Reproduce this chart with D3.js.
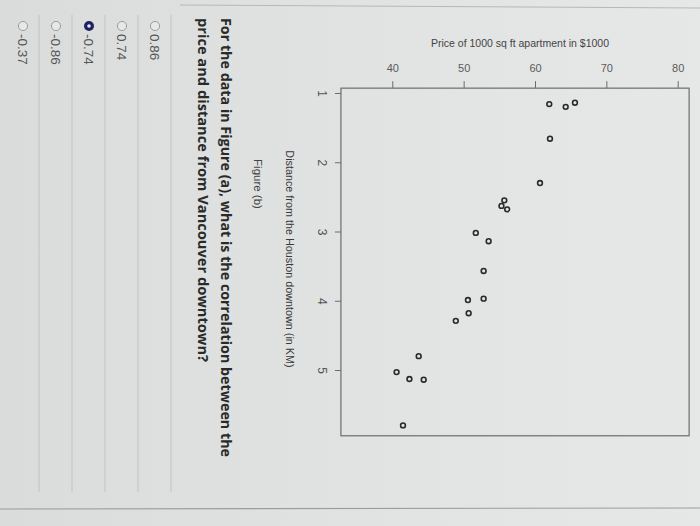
<!DOCTYPE html>
<html>
<head>
<meta charset="utf-8">
<script src="https://cdn.jsdelivr.net/npm/d3@7"></script>
<style>
  html, body { margin: 0; padding: 0; background: #dfe1e0; }
  svg { display: block; }
</style>
</head>
<body>
<svg id="chart" width="700" height="526"></svg>
<script>
// ---- data ----
const price = [62.0, 64.3, 65.6, 62.1, 60.7, 55.7, 55.3, 56.1, 51.7, 53.5,
               52.8, 50.6, 52.8, 50.7, 48.9, 43.7, 40.6, 42.4, 44.4, 41.5];
const distance = [1.16, 1.20, 1.14, 1.66, 2.30, 2.55, 2.63, 2.68, 3.02, 3.14,
                  3.57, 3.99, 3.97, 4.18, 4.29, 4.80, 5.03, 5.13, 5.14, 5.80];
const priceTicks = [40, 50, 60, 70, 80];
const distanceTicks = [1, 2, 3, 4, 5];
const priceLimits = [32.8, 81.6];
const distanceLimits = [0.93, 5.95];
const priceTitle = "Price of 1000 sq ft apartment in $1000";
const distanceTitle = "Distance from the Houston downtown (in KM)";
const figureCaption = "Figure (b)";
const questionLines = ["For the data in Figure (a), what is the correlation between the",
                       "price and distance from Vancouver downtown?"];
const options = ["0.86", "0.74", "-0.74", "-0.86", "-0.37"];
const selectedOption = "-0.74";

// ---- drawing ----
const svg = d3.select("#chart");

const defs = svg.append("defs");
const grad = defs.append("linearGradient").attr("id", "bg")
  .attr("x1", "0").attr("y1", "0").attr("x2", "1").attr("y2", "0");
grad.append("stop").attr("offset", "0").attr("stop-color", "#d9dcdb");
grad.append("stop").attr("offset", "0.5").attr("stop-color", "#e1e3e2");
grad.append("stop").attr("offset", "1").attr("stop-color", "#e6e8e7");
svg.append("rect").attr("width", 700).attr("height", 526).attr("fill", "url(#bg)");

// page frame lines
svg.append("line").attr("x1", 180).attr("y1", 5).attr("x2", 700).attr("y2", 8)
  .attr("stroke", "#b5b8b7").attr("stroke-width", 1);
svg.append("line").attr("x1", 0).attr("y1", 509).attr("x2", 700).attr("y2", 508)
  .attr("stroke", "#9a9d9c").attr("stroke-width", 1.2);

// scales: price runs horizontally, distance runs vertically (rotated photo)
const x = d3.scaleLinear().domain([40, 80]).range([392.3, 677.7]);
const y = d3.scaleLinear().domain([1, 5]).range([93, 370]);

// plot box
svg.append("rect")
  .attr("x", x(priceLimits[0])).attr("y", y(distanceLimits[0]))
  .attr("width", x(priceLimits[1]) - x(priceLimits[0]))
  .attr("height", y(distanceLimits[1]) - y(distanceLimits[0]))
  .attr("fill", "none").attr("stroke", "#6a6d6c").attr("stroke-width", 1.2);

// price axis (top)
const gTop = svg.append("g")
  .attr("transform", `translate(0,${y(distanceLimits[0])})`)
  .call(d3.axisTop(x).tickValues(priceTicks).tickSize(7).tickPadding(9).tickFormat(d3.format("d")));
gTop.select(".domain").remove();
gTop.selectAll("line").attr("stroke", "#6a6d6c");
gTop.selectAll("text").attr("fill", "#5a5a5a").attr("font-size", 11)
  .attr("font-family", "Liberation Sans, Arial, sans-serif");

// distance axis (left, labels rotated)
const gLeft = svg.append("g")
  .attr("transform", `translate(${x(priceLimits[0])},0)`)
  .call(d3.axisLeft(y).tickValues(distanceTicks).tickSize(6).tickFormat(d3.format("d")));
gLeft.select(".domain").remove();
gLeft.selectAll("line").attr("stroke", "#6a6d6c");
gLeft.selectAll("text")
  .attr("x", 0).attr("y", 0).attr("dy", "0.35em")
  .attr("text-anchor", "middle")
  .attr("transform", "translate(-19,0) rotate(90)")
  .attr("fill", "#555").attr("font-size", 12)
  .attr("font-family", "Liberation Sans, Arial, sans-serif");

// axis titles
svg.append("text").text(priceTitle)
  .attr("x", 520).attr("y", 47).attr("text-anchor", "middle")
  .attr("font-family", "Liberation Sans, Arial, sans-serif")
  .attr("font-size", 10.5).attr("fill", "#444");

svg.append("text").text(distanceTitle)
  .attr("transform", `translate(290,${(y(distanceLimits[0]) + y(distanceLimits[1])) / 2 - 3}) rotate(90)`)
  .attr("text-anchor", "middle").attr("dy", "0.35em")
  .attr("font-family", "Liberation Sans, Arial, sans-serif")
  .attr("font-size", 10.8).attr("fill", "#3a3a3a");

svg.append("text").text(figureCaption)
  .attr("transform", "translate(258,184) rotate(90)")
  .attr("text-anchor", "middle").attr("dy", "0.35em")
  .attr("font-family", "Liberation Sans, Arial, sans-serif")
  .attr("font-size", 11.5).attr("fill", "#444");

// points
svg.append("g").selectAll("circle")
  .data(price.map((p, i) => ({ p, d: distance[i] })))
  .join("circle")
  .attr("cx", d => x(d.p)).attr("cy", d => y(d.d)).attr("r", 2.4)
  .attr("fill", "none").attr("stroke", "#2a2a2a").attr("stroke-width", 1.6);

// question text
const qx = [226, 203];
const qLen = [439, 344];
questionLines.forEach((line, i) => {
  svg.append("text").text(line)
    .attr("transform", `translate(${qx[i]},18) rotate(90)`)
    .attr("dy", "0.35em")
    .attr("textLength", qLen[i]).attr("lengthAdjust", "spacingAndGlyphs")
    .attr("font-family", "Open Sans, Noto Sans, sans-serif")
    .attr("font-weight", 700).attr("font-size", 15).attr("fill", "#2a2a2a");
});

// answer options
const optX = d3.scaleLinear().domain([0, options.length - 1]).range([155, 23]);
const optG = svg.append("g");
options.forEach((o, i) => {
  const cx = optX(i);
  optG.append("line")
    .attr("x1", cx + 16).attr("x2", cx + 16).attr("y1", 15).attr("y2", 492)
    .attr("stroke", "#c0c3c2").attr("stroke-width", 1);
  if (o === selectedOption) {
    optG.append("circle").attr("cx", cx).attr("cy", 26).attr("r", 5)
      .attr("fill", "#1c2262");
    optG.append("circle").attr("cx", cx).attr("cy", 26).attr("r", 1.8)
      .attr("fill", "#e8e8ee");
  } else {
    optG.append("circle").attr("cx", cx).attr("cy", 26).attr("r", 4.6)
      .attr("fill", "#e6e8e7").attr("stroke", "#9a9d9c").attr("stroke-width", 1);
  }
  optG.append("text").text(o)
    .attr("transform", `translate(${cx},34) rotate(90)`)
    .attr("dy", "0.35em")
    .attr("font-family", "Liberation Sans, Arial, sans-serif")
    .attr("font-size", 13.5).attr("fill", "#555");
});
</script>
</body>
</html>
